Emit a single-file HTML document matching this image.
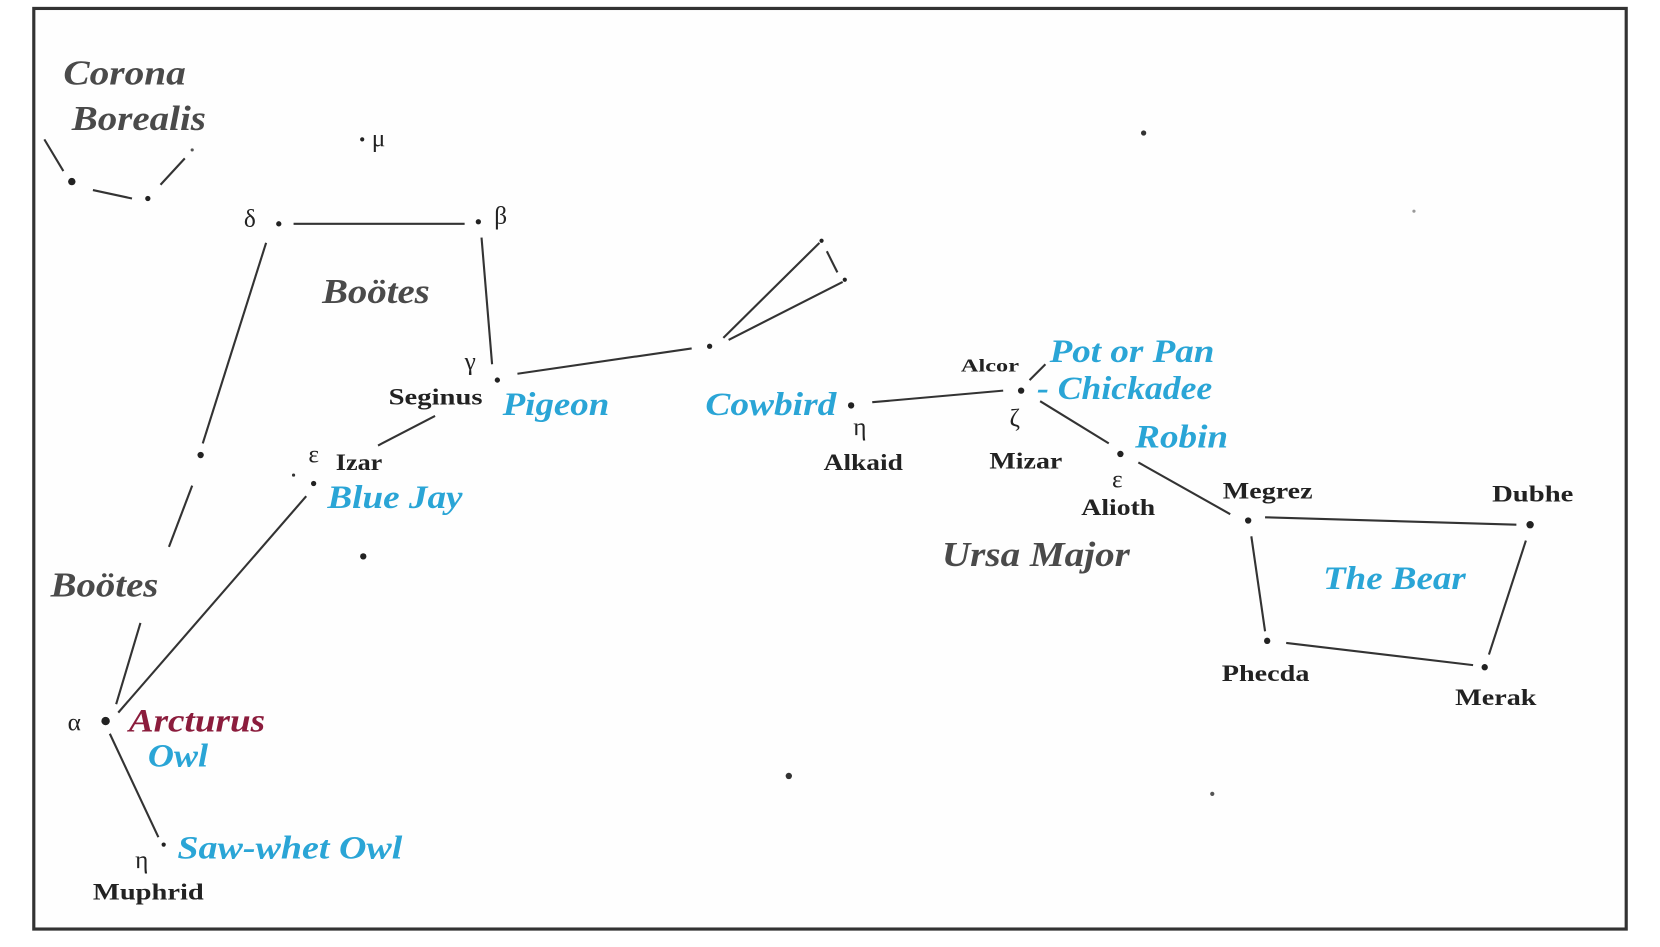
<!DOCTYPE html>
<html><head><meta charset="utf-8"><style>
html,body{margin:0;padding:0;background:#fff;}
svg{display:block;}
text{font-family:"Liberation Serif",serif;}
.lab{font-style:italic;font-weight:bold;fill:#4a4a4a;font-size:33px;}
.blue{font-style:italic;font-weight:bold;fill:#2aa5d6;font-size:31px;}
.nm{font-weight:bold;fill:#222;font-size:22px;}
.gr{fill:#222;font-size:24px;}
line{stroke:#333;stroke-width:2;}
</style></head><body>
<svg width="1660" height="947" viewBox="0 0 1572 897" preserveAspectRatio="none">
<rect x="0" y="0" width="1572" height="897" fill="#fff"/>
<rect x="32" y="8" width="1508" height="872" fill="#fefefe" stroke="#333" stroke-width="3"/>
<text class="lab" x="60" y="80" textLength="116" lengthAdjust="spacingAndGlyphs">Corona</text>
<text class="lab" x="68" y="123" textLength="127" lengthAdjust="spacingAndGlyphs">Borealis</text>
<line x1="42" y1="132" x2="60" y2="162"/><line x1="88" y1="180" x2="125" y2="188"/><line x1="152" y1="175" x2="175" y2="150"/>
<circle cx="68" cy="172" r="3.5" fill="#222"/><circle cx="140" cy="188" r="2.5" fill="#222"/><circle cx="182" cy="142" r="1.5" fill="#555"/>
<circle cx="343" cy="132" r="2" fill="#222"/><text class="gr" x="352" y="139">μ</text>
<text class="gr" x="231" y="215">δ</text><circle cx="264" cy="212" r="2.5" fill="#222"/>
<line x1="278" y1="212" x2="440" y2="212"/>
<circle cx="453" cy="210" r="2.5" fill="#222"/><text class="gr" x="468" y="212">β</text>
<line x1="456" y1="225" x2="466" y2="345"/>
<text class="gr" x="440" y="350">γ</text><circle cx="471" cy="360" r="2.5" fill="#222"/>
<text class="lab" x="305" y="287" textLength="102" lengthAdjust="spacingAndGlyphs">Boötes</text>
<line x1="252" y1="230" x2="192" y2="420"/><circle cx="190" cy="431" r="3" fill="#222"/>
<line x1="182" y1="460" x2="160" y2="518"/><line x1="133" y1="590" x2="110" y2="667"/>
<circle cx="100" cy="683" r="4" fill="#222"/><text class="gr" x="64" y="692">α</text>
<text class="nm" x="368" y="383" textLength="89" lengthAdjust="spacingAndGlyphs">Seginus</text>
<text class="blue" x="476" y="393" textLength="101" lengthAdjust="spacingAndGlyphs">Pigeon</text>
<line x1="490" y1="354" x2="655" y2="330"/><circle cx="672" cy="328" r="2.5" fill="#222"/>
<line x1="685" y1="320" x2="776" y2="230"/><line x1="690" y1="322" x2="798" y2="267"/><line x1="783" y1="238" x2="793" y2="258"/>
<circle cx="778" cy="228" r="2" fill="#222"/><circle cx="800" cy="265" r="2" fill="#222"/>
<line x1="412" y1="394" x2="358" y2="422"/>
<text class="gr" x="292" y="438">ε</text><text class="nm" x="318" y="445" textLength="44" lengthAdjust="spacingAndGlyphs">Izar</text>
<circle cx="278" cy="450" r="1.5" fill="#333"/><circle cx="297" cy="458" r="2.5" fill="#222"/>
<text class="blue" x="310" y="481" textLength="128" lengthAdjust="spacingAndGlyphs">Blue Jay</text>
<line x1="290" y1="470" x2="112" y2="675"/>
<circle cx="344" cy="527" r="3" fill="#222"/>
<text class="lab" x="48" y="565" textLength="102" lengthAdjust="spacingAndGlyphs">Boötes</text>
<text x="122" y="693" textLength="129" lengthAdjust="spacingAndGlyphs" style="font-style:italic;font-weight:bold;font-size:31px;fill:#8b1c3c;font-family:'Liberation Serif',serif">Arcturus</text>
<text class="blue" x="140" y="726" textLength="57" lengthAdjust="spacingAndGlyphs">Owl</text>
<line x1="104" y1="695" x2="150" y2="793"/>
<text class="gr" x="128" y="822">η</text><circle cx="155" cy="800" r="2" fill="#222"/>
<text class="blue" x="168" y="813" textLength="213" lengthAdjust="spacingAndGlyphs">Saw-whet Owl</text>
<text class="nm" x="88" y="852" textLength="105" lengthAdjust="spacingAndGlyphs">Muphrid</text>
<text class="blue" x="668" y="393" textLength="124" lengthAdjust="spacingAndGlyphs">Cowbird</text><circle cx="806" cy="384" r="3" fill="#222"/>
<text class="gr" x="808" y="412">η</text><text class="nm" x="780" y="445" textLength="75" lengthAdjust="spacingAndGlyphs">Alkaid</text>
<line x1="826" y1="381" x2="950" y2="370"/>
<text x="910" y="352" textLength="55" lengthAdjust="spacingAndGlyphs" style="font-weight:bold;font-size:17px;fill:#222;font-family:'Liberation Serif',serif">Alcor</text>
<circle cx="967" cy="370" r="3" fill="#222"/><line x1="975" y1="360" x2="990" y2="345"/>
<text class="blue" x="994" y="343" textLength="156" lengthAdjust="spacingAndGlyphs">Pot or Pan</text>
<text class="blue" x="982" y="378" textLength="166" lengthAdjust="spacingAndGlyphs">- Chickadee</text>
<text class="gr" x="956" y="404">ζ</text><text class="nm" x="937" y="444" textLength="69" lengthAdjust="spacingAndGlyphs">Mizar</text>
<line x1="985" y1="380" x2="1050" y2="420"/><circle cx="1061" cy="430" r="3" fill="#222"/>
<text class="blue" x="1075" y="424" textLength="88" lengthAdjust="spacingAndGlyphs">Robin</text>
<text class="gr" x="1053" y="462">ε</text><text class="nm" x="1024" y="488" textLength="70" lengthAdjust="spacingAndGlyphs">Alioth</text>
<line x1="1078" y1="438" x2="1165" y2="487"/>
<text class="nm" x="1158" y="472" textLength="85" lengthAdjust="spacingAndGlyphs">Megrez</text><circle cx="1182" cy="493" r="3" fill="#222"/>
<line x1="1198" y1="490" x2="1436" y2="497"/>
<circle cx="1449" cy="497" r="3.5" fill="#222"/><text class="nm" x="1413" y="475" textLength="77" lengthAdjust="spacingAndGlyphs">Dubhe</text>
<line x1="1185" y1="508" x2="1198" y2="598"/>
<circle cx="1200" cy="607" r="3" fill="#222"/><text class="nm" x="1157" y="645" textLength="83" lengthAdjust="spacingAndGlyphs">Phecda</text>
<line x1="1218" y1="609" x2="1395" y2="630"/>
<circle cx="1406" cy="632" r="3" fill="#222"/><text class="nm" x="1378" y="668" textLength="77" lengthAdjust="spacingAndGlyphs">Merak</text>
<line x1="1445" y1="512" x2="1410" y2="620"/>
<text class="blue" x="1253" y="558" textLength="135" lengthAdjust="spacingAndGlyphs">The Bear</text>
<text class="lab" x="892" y="536" textLength="178" lengthAdjust="spacingAndGlyphs">Ursa Major</text>
<circle cx="1083" cy="126" r="2.5" fill="#333"/><circle cx="747" cy="735" r="3" fill="#333"/>
<circle cx="1148" cy="752" r="2" fill="#555"/><circle cx="1339" cy="200" r="1.5" fill="#999"/>
</svg>
</body></html>
